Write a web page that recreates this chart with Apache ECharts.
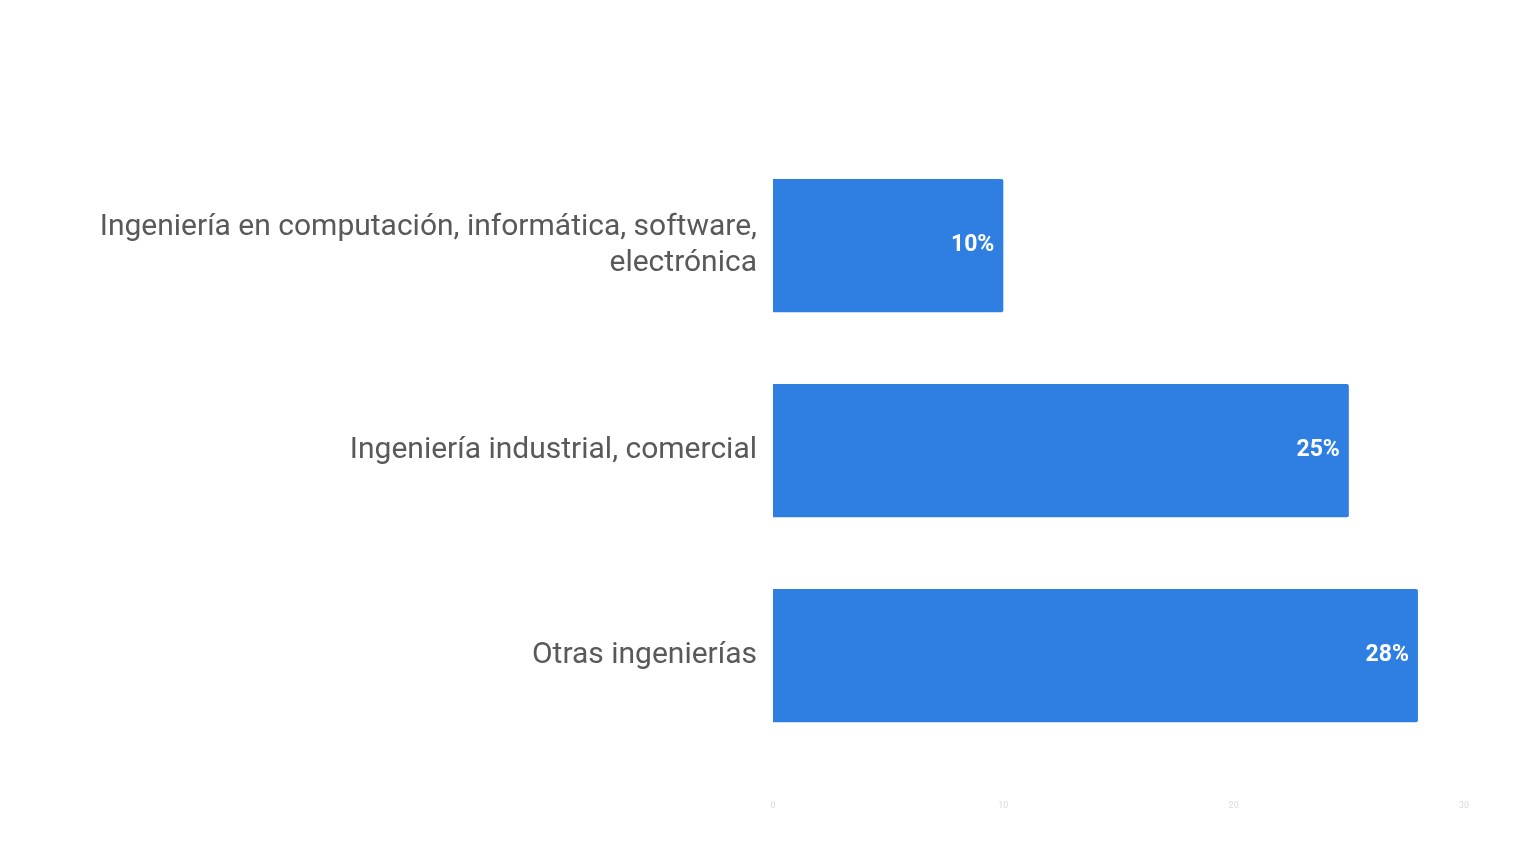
<!DOCTYPE html>
<html>
<head>
<meta charset="utf-8">
<script src="https://cdn.jsdelivr.net/npm/echarts@6/dist/echarts.min.js"></script>
<style>
html,body{margin:0;padding:0;background:#fff;}
#main{width:1514px;height:867px;}
</style>
</head>
<body>
<div id="main"></div>
<script>
const categories = [
  "Ingeniería en computación, informática, software,\nelectrónica",
  "Ingeniería industrial, comercial",
  "Otras ingenierías"
];
const values = [10, 25, 28];
const xTicks = [0, 10, 20, 30];

const chart = echarts.init(document.getElementById('main'));
chart.setOption({
  animation: false,
  backgroundColor: '#ffffff',
  grid: { left: 773, right: 50, top: 143, bottom: 109, containLabel: false },
  xAxis: {
    type: 'value',
    min: xTicks[0],
    max: xTicks[xTicks.length - 1],
    interval: 10,
    axisLine: { show: false },
    axisTick: { show: false },
    splitLine: { show: false },
    axisLabel: {
      color: '#d9d9d9',
      fontSize: 9,
      fontFamily: 'Roboto, Liberation Sans, Arial, sans-serif',
      margin: 43
    }
  },
  yAxis: {
    type: 'category',
    data: categories,
    inverse: true,
    axisLine: { show: false },
    axisTick: { show: false },
    splitLine: { show: false },
    axisLabel: {
      color: '#595959',
      fontSize: 30,
      lineHeight: 36,
      fontFamily: 'Roboto, Liberation Sans, Arial, sans-serif',
      margin: 16,
      padding: [4, 0, 0, 0],
      align: 'right'
    }
  },
  series: [{
    type: 'bar',
    data: values,
    barWidth: '65%',
    itemStyle: { color: '#2E7FE1', borderRadius: [0, 2, 2, 0] },
    label: {
      show: true,
      position: 'insideRight',
      distance: 9,
      formatter: '{c}%',
      color: '#ffffff',
      fontSize: 23,
      fontWeight: 'bold',
      fontFamily: 'Roboto, Liberation Sans, Arial, sans-serif'
    }
  }]
});
</script>
</body>
</html>
